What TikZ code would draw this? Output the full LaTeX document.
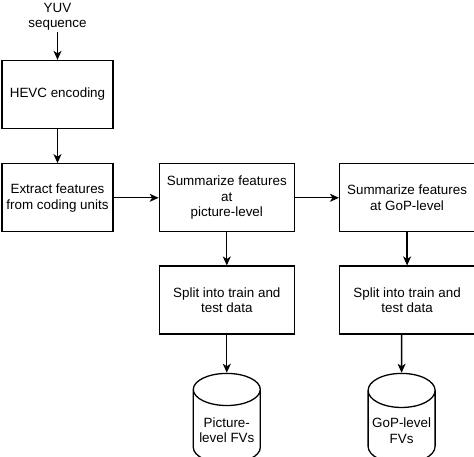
\documentclass[tikz,border=0pt]{standalone}
\usepackage{fontspec}
\setmainfont{Liberation Sans}
\usetikzlibrary{positioning,shapes.geometric,arrows.meta}

\begin{document}
\begin{tikzpicture}[node distance=34pt and 45pt,
        box/.style={rectangle, draw, line width=1.3pt, fill=white, align=center, minimum height=68pt, inner sep=2pt},
        store/.style={cylinder, draw, line width=1.3pt, shape border rotate=90, aspect=0.52, align=center, minimum width=67pt, minimum height=90pt},
        arr/.style={-{Stealth[length=9pt, width=8pt, inset=2.5pt]}, line width=1.3pt},
        every node/.style={font=\fontsize{13.4}{15.5}\selectfont}]
    \clip (0,0) rectangle (474pt,-456pt);
    \node[box, minimum width=111pt] (hevc) at (57.5pt,-94.5pt) {HEVC encoding};
    \node[inner sep=1pt, align=center] (yuv) [above=28pt of hevc] {YUV\\sequence};
    \node[box, minimum width=111pt] (extract) [below=of hevc] {Extract features\\from coding units};
    \node[box, minimum width=135pt] (sumpic) [right=of extract] {Summarize features\\at\\picture-level};
    \node[box, minimum width=135pt] (sumgop) [right=44pt of sumpic] {Summarize features\\at GoP-level};
    \node[box, minimum width=135pt] (splitpic) [below=33pt of sumpic] {Split into train and\\test data};
    \node[box, minimum width=135pt] (splitgop) [below=33pt of sumgop] {Split into train and\\test data};
    \node[store] (fvpic) [below=38pt of splitpic] {Picture-\\level FVs};
    \node[store] (fvgop) [below=38pt of splitgop, xshift=-5.5pt] {GoP-level\\FVs};

    \draw[arr] (yuv) -- (hevc);
    \draw[arr] (hevc) -- (extract);
    \draw[arr] (extract) -- (sumpic);
    \draw[arr] (sumpic) -- (sumgop);
    \draw[arr] (sumpic) -- (splitpic);
    \draw[arr] (sumgop) -- (splitgop);
    \draw[arr] (splitpic) -- (fvpic);
    \draw[arr] (splitgop.south -| fvgop) -- (fvgop);
\end{tikzpicture}
\end{document}
